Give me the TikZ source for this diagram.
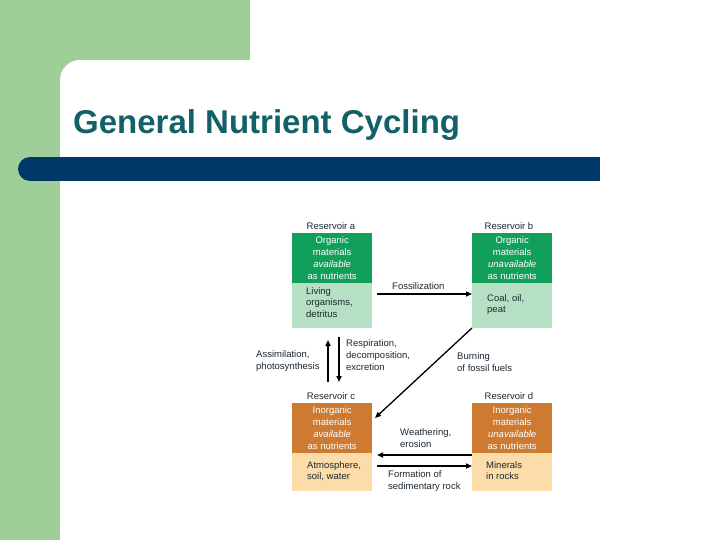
\documentclass[tikz,border=0pt]{standalone}
\usepackage{fontspec}
\setmainfont{Liberation Sans}
\usetikzlibrary{arrows.meta}
\definecolor{bggreen}{RGB}{160,206,152}
\definecolor{barblue}{RGB}{0,56,104}
\definecolor{titlec}{RGB}{18,96,104}
\definecolor{dgreen}{RGB}{16,160,90}
\definecolor{lgreen}{RGB}{182,224,196}
\definecolor{dorange}{RGB}{206,122,48}
\definecolor{lorange}{RGB}{252,220,168}
\definecolor{txt}{RGB}{30,40,50}
\tikzset{
 top/.style={minimum width=80pt,minimum height=50pt,inner sep=1pt,align=center,text=white,font=\fontsize{9.5}{11.8}\selectfont,anchor=north west},
 box/.style={minimum width=80pt,inner sep=0pt,anchor=north west},
 lbl/.style={align=left,text=txt,font=\fontsize{9.5}{11.8}\selectfont,inner sep=0pt},
 arr/.style={-{Triangle[length=6pt,width=5pt]},line width=1.6pt,black}
}
\begin{document}
\begin{tikzpicture}[x=1pt,y=-1pt]
\useasboundingbox (0,0) rectangle (720,540);
\fill[bggreen] (0,0) rectangle (250,540);
\fill[white] (80,60) rectangle (720,540);
\fill[white] (60,80) rectangle (720,540);
\fill[white] (80,80) circle[radius=20];
\fill[barblue] (30,157) rectangle (600,181);
\fill[barblue] (30,169) circle[radius=12];
\node[anchor=base west,text=titlec,font=\fontsize{33}{38}\selectfont\bfseries,inner sep=0pt] (title) at (73,134) {General Nutrient Cycling};
% reservoir a
\node[lbl] (ra) at (331,226) {Reservoir a};
\node[top,fill=dgreen] (a1) at (292,233) {Organic\\materials\\\textit{available}\\as nutrients};
\node[box,fill=lgreen,minimum height=45pt] (a2) at (292,283) {};
\node[lbl,anchor=north west] (a2t) at (306,287) {Living\\organisms,\\detritus};
% reservoir b
\node[lbl] (rb) at (509,226) {Reservoir b};
\node[top,fill=dgreen] (b1) at (472,233) {Organic\\materials\\\textit{unavailable}\\as nutrients};
\node[box,fill=lgreen,minimum height=45pt] (b2) at (472,283) {};
\node[lbl,anchor=north west] (b2t) at (487,294) {Coal, oil,\\peat};
% reservoir c
\node[lbl] (rc) at (331,396) {Reservoir c};
\node[top,fill=dorange] (c1) at (292,403) {Inorganic\\materials\\\textit{available}\\as nutrients};
\node[box,fill=lorange,minimum height=38pt] (c2) at (292,453) {};
\node[lbl,anchor=north west] (c2t) at (307,461) {Atmosphere,\\soil, water};
% reservoir d
\node[lbl] (rd) at (509,396) {Reservoir d};
\node[top,fill=dorange] (d1) at (472,403) {Inorganic\\materials\\\textit{unavailable}\\as nutrients};
\node[box,fill=lorange,minimum height=38pt] (d2) at (472,453) {};
\node[lbl,anchor=north west] (d2t) at (486,461) {Minerals\\in rocks};
% coordinates
\coordinate (fa) at (377,294); \coordinate (fb) at (472,294);
\coordinate (u1) at (328,382); \coordinate (u2) at (328,340);
\coordinate (d1a) at (339,337); \coordinate (d1b) at (339,382);
\coordinate (bb) at (472,328); \coordinate (bc) at (375,418);
\coordinate (w1) at (472,455); \coordinate (w2) at (377,455);
\coordinate (s1) at (377,466); \coordinate (s2) at (472,466);
\draw[arr] (fa) -- (fb);
\draw[arr] (u1) -- (u2);
\draw[arr] (d1a) -- (d1b);
\draw[line width=1.3pt,-{Triangle[length=6pt,width=5pt]}] (bb) -- (bc);
\draw[arr] (w1) -- (w2);
\draw[arr] (s1) -- (s2);
\node[lbl,anchor=west] (lf) at (392,286) {Fossilization};
\node[lbl,anchor=west] (la) at (256,361) {Assimilation,\\photosynthesis};
\node[lbl,anchor=west] (lr) at (346,355) {Respiration,\\decomposition,\\excretion};
\node[lbl,anchor=west] (lb) at (457,362) {Burning\\of fossil fuels};
\node[lbl,anchor=west] (lw) at (400,438) {Weathering,\\erosion};
\node[lbl,anchor=west] (ls) at (388,481) {Formation of\\sedimentary rock};
\end{tikzpicture}
\end{document}
